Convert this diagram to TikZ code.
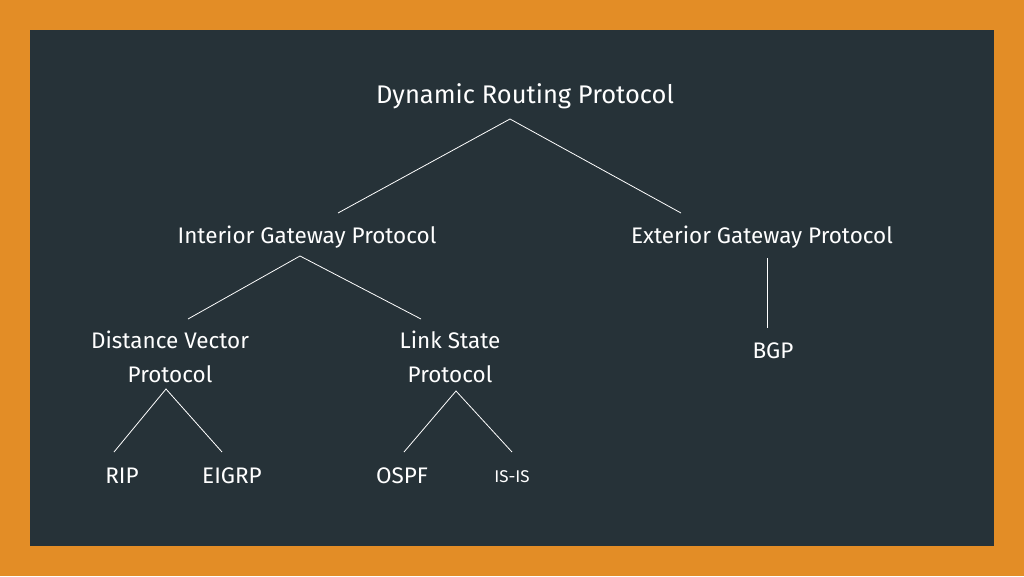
\documentclass[tikz,border=0pt]{standalone}
\usepackage{fontspec}
\setmainfont{Fira Sans}
\definecolor{frame}{HTML}{E38D26}
\definecolor{board}{HTML}{263238}
\begin{document}
\begin{tikzpicture}[x=1pt,y=-1pt,
  lbl/.style={text=white,font=\fontsize{22.5}{34}\selectfont,align=center},
  ttl/.style={text=white,font=\fontsize{25.5}{28}\selectfont},
  sml/.style={text=white,font=\fontsize{17}{19}\selectfont},
  edge/.style={draw=white,line width=0.8pt}]
\useasboundingbox (0,0) rectangle (1024,576);
\fill[frame] (0,0) rectangle (1024,576);
\fill[board] (30,30) rectangle (994,546);
\node[ttl] (drp) at (525,96) {Dynamic Routing Protocol};
\node[lbl] (igp) at (307,237) {Interior Gateway Protocol};
\node[lbl] (egp) at (762,237) {Exterior Gateway Protocol};
\node[lbl] (dv) at (170,357) {Distance Vector\\Protocol};
\node[lbl] (ls) at (450,357) {Link State\\Protocol};
\node[lbl] (bgp) at (773,351) {BGP};
\node[lbl] (rip) at (122,476) {RIP};
\node[lbl] (eigrp) at (232,476) {EIGRP};
\node[lbl] (ospf) at (402,476) {OSPF};
\node[sml] (isis) at (512,477) {IS-IS};
\coordinate (a0) at (510,119); \coordinate (a1) at (338,213); \coordinate (a2) at (681,213);
\coordinate (b0) at (300,256); \coordinate (b1) at (188,319); \coordinate (b2) at (421,319);
\coordinate (c0) at (767,258); \coordinate (c1) at (767,328);
\coordinate (d0) at (166,389); \coordinate (d1) at (114,452); \coordinate (d2) at (222,452);
\coordinate (e0) at (456,391); \coordinate (e1) at (404,452); \coordinate (e2) at (512,452);
\draw[edge] (a1) -- (a0) -- (a2);
\draw[edge] (b1) -- (b0) -- (b2);
\draw[edge] (c0) -- (c1);
\draw[edge] (d1) -- (d0) -- (d2);
\draw[edge] (e1) -- (e0) -- (e2);
\end{tikzpicture}
\end{document}
